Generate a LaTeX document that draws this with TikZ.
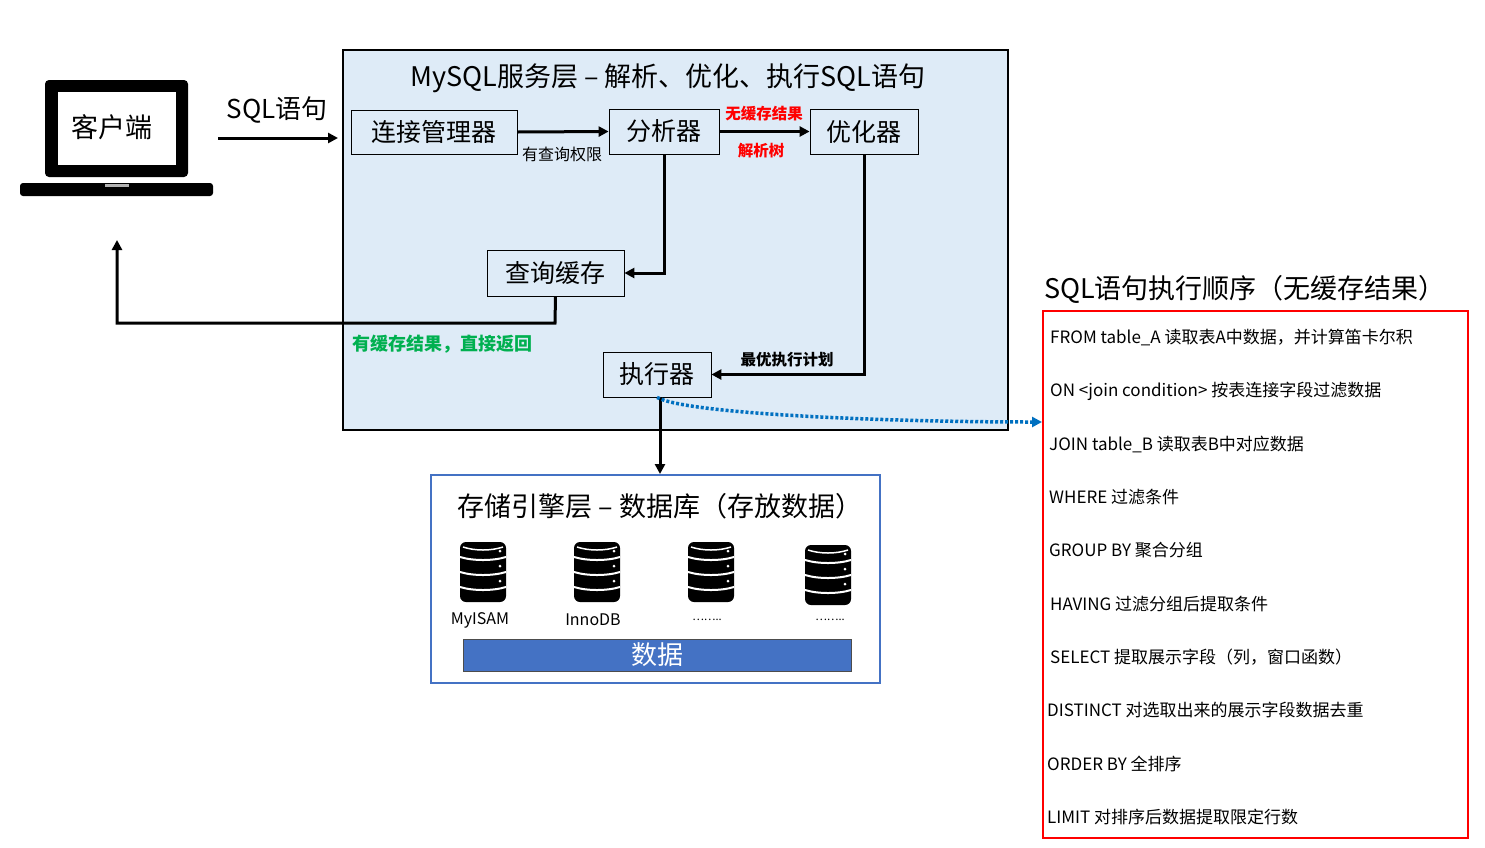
\documentclass[tikz,border=0pt]{standalone}
\usepackage{fontspec}
\setmainfont{Noto Sans CJK SC}
\usetikzlibrary{arrows.meta}
\definecolor{lb}{RGB}{222,235,247}
\definecolor{bb}{RGB}{68,114,196}
\definecolor{gr}{RGB}{0,176,80}
\definecolor{dot}{RGB}{0,112,192}
\newcommand{\fs}[1]{\fontsize{#1}{#1}\selectfont}
\tikzset{
 box/.style={draw=black,fill=lb,line width=0.8pt,inner sep=0},
 lab/.style={font=\fs{25}},
 arr/.style={line width=3pt,-{Triangle[length=10pt,width=10pt]}},
 it/.style={anchor=west,font=\fs{17},inner sep=0},
}
\newcommand{\db}[2]{%
 \fill[black,rounded corners=6pt] (#1-23,#2) rectangle (#1+23,#2+60);
 \foreach \k in {15,30,45}{\draw[white,line width=2pt] (#1-23,#2+\k) .. controls (#1-10,#2+\k+4) and (#1+10,#2+\k+4) .. (#1+23,#2+\k);
 \fill[white] (#1+17,#2+\k-6) circle (1.5);}
 \draw[white,line width=1.5pt] (#1-20,#2+5) .. controls (#1-8,#2+9) and (#1+8,#2+9) .. (#1+20,#2+5);}
\begin{document}
\begin{tikzpicture}[x=1pt,y=-1pt]
\useasboundingbox (0,0) rectangle (1485,847);
% laptop
\fill[black,rounded corners=4pt] (45,80) rectangle (188,177);
\fill[white] (58,92) rectangle (176,165);
\fill[black,rounded corners=3pt] (20,183) rectangle (213,196);
\fill[gray!60] (105,184) rectangle (129,187);
\node[font=\fs{27}] (client) at (112,127) {客户端};
\coordinate (clb) at (117,240);
\node[font=\fs{26}] at (277,110) {SQL语句};
\coordinate (sqa) at (218,138);
% mysql
\draw[fill=lb,line width=1.5pt] (343,50) rectangle (1008,430);
\coordinate (myl) at (338,138);
\draw[arr] (sqa) -- (myl);
\node[font=\fs{27}] at (668,78) {MySQL服务层 – 解析、优化、执行SQL语句};
\node[box,minimum width=166,minimum height=44,lab] (conn) at (434,132) {连接管理器};
\node[box,minimum width=110,minimum height=45,lab] (ana) at (664,131.5) {分析器};
\node[box,minimum width=108,minimum height=45,lab] (opt) at (864,131.5) {优化器};
\node[box,minimum width=137,minimum height=46,lab] (cache) at (555.5,273) {查询缓存};
\node[box,minimum width=108,minimum height=45,lab] (exe) at (657,374.5) {执行器};
\draw[arr] (conn.east) -- (ana.west);
\node[font=\fs{16}] at (562,154) {有查询权限};
\draw[arr] (ana.east) -- (opt.west);
\node[font=\bfseries\fs{15.5},text=red] at (764,114) {无缓存结果};
\node[font=\bfseries\fs{15.5},text=red] at (761,151) {解析树};
\draw[arr] (ana.south) |- (cache.east);
\draw[arr] (cache.south) -- (555,323) -| (clb);
\node[font=\bfseries\fs{18},text=gr] at (442,344) {有缓存结果，直接返回};
\draw[arr] (opt.south) |- (exe.east);
\node[font=\bfseries\fs{15.5}] at (787,360) {最优执行计划};
% storage
\draw[line width=1.5pt,draw=bb] (431,475) rectangle (880,683);
\coordinate (stt) at (660,474);
\draw[arr] (exe.south -| stt) -- (stt);
\node[font=\fs{27}] at (660,506) {存储引擎层 – 数据库（存放数据）};
\db{483}{542}\db{597}{542}\db{711}{542}\db{828}{545}
\node[font=\fs{16}] at (480,620) {MyISAM};
\node[font=\fs{16}] at (593,620) {InnoDB};
\node[font=\fs{11}] at (707,620) {……..};
\node[font=\fs{11}] at (830,620) {……..};
\node[draw=black!70,fill=bb,minimum width=388,minimum height=32,inner sep=0,text=white,font=\fs{26}] (data) at (657,655) {数据};
% right
\node[font=\fs{27}] at (1245,289) {SQL语句执行顺序（无缓存结果）};
\draw[red,line width=1.5pt] (1043,311) rectangle (1468,838);
\coordinate (ord) at (1042,422);
\draw[dot,line width=3.5pt,dash pattern=on 3pt off 2pt,-{Triangle[length=10pt,width=10pt]}] (exe.south) .. controls (690,415) and (900,422) .. (ord);
\node[it] at (1050,337) {FROM table\_A 读取表A中数据，并计算笛卡尔积};
\node[it] at (1050,391) {ON <join condition> 按表连接字段过滤数据};
\node[it] at (1049,444) {JOIN table\_B 读取表B中对应数据};
\node[it] at (1049,497) {WHERE 过滤条件};
\node[it] at (1049,550) {GROUP BY 聚合分组};
\node[it] at (1050,604) {HAVING 过滤分组后提取条件};
\node[it] at (1050,657) {SELECT 提取展示字段（列，窗口函数）};
\node[it] at (1047,710) {DISTINCT 对选取出来的展示字段数据去重};
\node[it] at (1047,764) {ORDER BY 全排序};
\node[it] at (1047,817) {LIMIT 对排序后数据提取限定行数};
\end{tikzpicture}
\end{document}
